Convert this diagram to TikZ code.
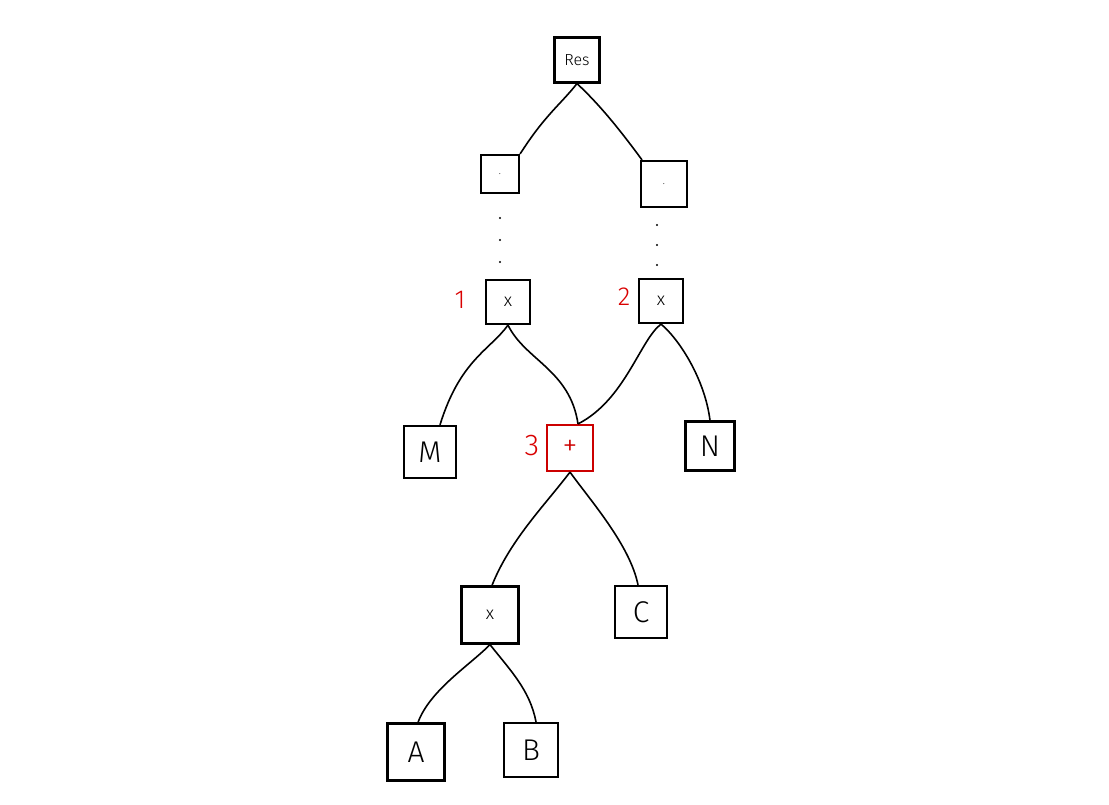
\documentclass[tikz,border=0pt]{standalone}
\usepackage{fontspec}
\setmainfont{Fira Sans Light}
\begin{document}
\begin{tikzpicture}[x=1pt,y=-1pt,
  box/.style={draw,line width=2.2pt,minimum width=#1,minimum height=#1,inner sep=0pt},
  box/.default=44pt,
  red box/.style={box=46pt,draw=red!80!black},
  lab/.style={text=red!85!black,font=\fontsize{26}{26}\selectfont},
  sm/.style={font=\fontsize{18}{18}\selectfont},
  big/.style={font=\fontsize{30}{30}\selectfont},
  edge/.style={line width=1.6pt},
  dotm/.style={circle,fill,inner sep=0.8pt}]
\useasboundingbox (0,0) rectangle (1109,804);
\node[box=45pt,font=\fontsize{16}{16}\selectfont] (res) at (577,60) {Res};
\node[box=38pt] (l) at (500,174) {.};
\node[box=46pt] (r) at (664,184) {.};
\node[dotm] (l1) at (500,218) {}; \node[dotm] (l2) at (500,240) {}; \node[dotm] (l3) at (500,262) {};
\node[dotm] (r1) at (657,225) {}; \node[dotm] (r2) at (657,245) {}; \node[dotm] (r3) at (657,265) {};
\node[box=44pt,sm] (x1) at (508,302) {x};
\node[lab] at (460,300) {1};
\node[box=44pt,sm] (x2) at (661,301) {x};
\node[lab] at (624,297) {2};
\node[box=52pt,big] (m) at (430,452) {M};
\node[red box,big,text=red!80!black] (p) at (570,448) {+};
\node[lab,big] at (532,446) {3};
\node[box=49pt,big] (n) at (710,446) {N};
\node[box=57pt,sm] (x3) at (490,615) {x};
\node[box=52pt,big] (c) at (641,612) {C};
\node[box=57pt,big] (a) at (416,752) {A};
\node[box=54pt,big] (b) at (531,750) {B};
\draw[edge] (res.south) .. controls (560,105) and (545,115) .. (l.north east);
\draw[edge] (res.south) .. controls (600,105) and (620,130) .. ([xshift=-22pt]r.north);
\draw[edge] (x1.south) .. controls (490,350) and (460,360) .. ([xshift=10pt]m.north);
\draw[edge] (x1.south) .. controls (525,360) and (570,370) .. ([xshift=8pt]p.north);
\draw[edge] (x2.south) .. controls (640,340) and (625,400) .. ([xshift=8pt]p.north);
\draw[edge] (x2.south) .. controls (680,340) and (705,380) .. (n.north);
\draw[edge] (p.south) .. controls (545,505) and (510,540) .. ([xshift=2pt]x3.north);
\draw[edge] (p.south) .. controls (590,500) and (630,545) .. ([xshift=-3pt]c.north);
\draw[edge] (x3.south) .. controls (470,665) and (430,690) .. ([xshift=2pt]a.north);
\draw[edge] (x3.south) .. controls (510,670) and (530,690) .. ([xshift=5pt]b.north);
\end{tikzpicture}
\end{document}
